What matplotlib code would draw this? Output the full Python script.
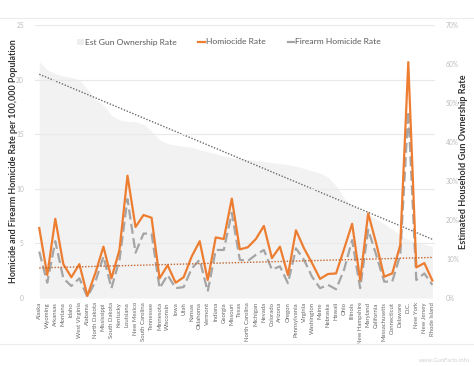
import numpy as np
import matplotlib
matplotlib.use("Agg")
import matplotlib.pyplot as plt
from matplotlib.patches import Patch
from matplotlib.lines import Line2D

plt.rcParams['font.family'] = ['Lato', 'DejaVu Sans']

states = ["Alaska", "Wyoming", "Arkansas", "Montana", "Idaho", "West Virginia", "Alabama",
          "North Dakota", "Mississippi", "South Dakota", "Kentucky", "Louisiana", "New Mexico",
          "South Carolina", "Tennessee", "Minnesota", "Wisconsin", "Iowa", "Utah", "Kansas",
          "Oklahoma", "Vermont", "Indiana", "Georgia", "Missouri", "Texas", "North Carolina",
          "Michigan", "Nevada", "Colorado", "Arizona", "Oregon", "Pennsylvania", "Virginia",
          "Washington", "Maine", "Nebraska", "Hawaii", "Ohio", "Illinois", "New Hampshire",
          "Maryland", "California", "Massachusetts", "Connecticut", "Delaware", "D.C.",
          "New York", "New Jersey", "Rhode Island"]

homicide = [6.4, 2.1, 7.25, 3.1, 1.9, 3.1, 0.2, 2.3, 4.7, 1.8, 4.4, 11.2, 6.5, 7.6, 7.35,
            1.8, 3.0, 1.4, 1.9, 3.8, 5.2, 1.65, 5.55, 5.4, 9.1, 4.45, 4.65, 5.4, 6.6, 3.65,
            4.7, 2.1, 6.2, 4.55, 3.2, 1.75, 2.2, 2.25, 4.5, 6.8, 1.65, 7.75, 5.0, 1.95, 2.25,
            4.85, 21.6, 2.8, 3.2, 1.6]

firearm = [4.25, 1.4, 5.2, 1.8, 1.1, 1.8, 0.1, 1.5, 3.8, 0.9, 3.5, 9.05, 4.15, 5.9, 5.9,
           0.9, 2.1, 0.9, 1.0, 2.7, 3.5, 0.6, 4.4, 4.4, 7.8, 3.5, 3.4, 3.95, 4.4, 2.6,
           2.9, 1.35, 4.55, 3.5, 1.95, 0.9, 1.2, 0.8, 2.6, 5.3, 0.9, 6.25, 3.95, 1.5, 1.5,
           3.95, 17.1, 1.65, 2.25, 1.2]

ownership = [60.6, 58.5, 57.5, 56.9, 56.6, 55.9, 53.5, 51.0, 49.5, 46.8, 45.7, 45.3, 45.2,
             44.5, 42.8, 40.5, 39.6, 39.2, 38.9, 38.7, 38.0, 37.5, 37.0, 36.4, 36.0, 35.8,
             35.5, 35.2, 35.0, 34.7, 34.5, 34.2, 33.8, 33.2, 32.6, 32.0, 31.0, 28.7, 25.5,
             23.8, 22.6, 21.5, 20.3, 19.0, 17.6, 16.0, 15.0, 14.2, 13.8, 13.2]

left_ticks = [0, 5, 10, 15, 20, 25]
right_ticks = [0, 10, 20, 30, 40, 50, 60, 70]

W, H = 474, 366
fig = plt.figure(figsize=(W / 100, H / 100), dpi=100)

x0, x1 = 35, 435
rect = [x0 / W, 1 - 298 / H, (x1 - x0) / W, (298 - 25) / H]
ax_own = fig.add_axes(rect)
ax_hom = ax_own.twinx()

x = np.arange(len(states))

# ownership area (right axis)
ax_own.fill_between(x, ownership, 0, color='#f2f2f2', lw=0, zorder=1)
c1 = np.polyfit(x, ownership, 1)
ax_own.plot(x, np.polyval(c1, x), color='#6b6b6b', lw=1.0, ls=(0, (1, 1.2)), zorder=2)
ax_own.set_ylim(0, 70)
ax_own.set_yticks(right_ticks)
ax_own.set_yticklabels([f"{t}%" for t in right_ticks])
ax_own.yaxis.tick_right()
ax_own.yaxis.set_label_position('right')
ax_own.tick_params(axis='y', length=0, labelsize=4.8, labelcolor='#bdbdbd', pad=8)
ax_own.set_ylabel("Estimated Household Gun Ownership Rate", fontsize=6.6,
                  fontweight='bold', color='#333333', rotation=90, va='center', ha='center')
ax_own.yaxis.set_label_coords((463 - x0) / (x1 - x0), 0.5)
ax_own.set_facecolor('white')

# homicide lines (left axis)
ax_hom.yaxis.tick_left()
ax_hom.yaxis.set_label_position('left')
ax_hom.set_ylim(0, 25)
ax_hom.set_yticks(left_ticks)
ax_hom.set_yticklabels([str(t) for t in left_ticks])
ax_hom.tick_params(axis='y', length=0, labelsize=4.8, labelcolor='#bdbdbd', pad=8)
ax_hom.set_ylabel("Homicide and Firearm Homicide Rate per 100,000 Population", fontsize=6.4,
                  fontweight='bold', color='#333333', va='center', ha='center')
ax_hom.yaxis.set_label_coords((13 - x0) / (x1 - x0), 0.5)
for t in left_ticks[1:]:
    ax_hom.axhline(t, color='#e9e9e9', lw=0.8, zorder=1)

ax_hom.plot(x, firearm, color='#a5a5a5', lw=1.6, dashes=(4.5, 2.0), zorder=3,
            solid_joinstyle='miter')
ax_hom.plot(x, homicide, color='#ed7d31', lw=1.6, zorder=4)
c2 = np.polyfit(x, firearm, 1)
ax_hom.plot(x, np.polyval(c2, x), color='#c5672e', lw=1.0, ls=(0, (1, 1.2)), zorder=5)

for a in (ax_own, ax_hom):
    for s in a.spines.values():
        s.set_visible(False)

ax_own.set_xlim(-0.53, 49.33)
ax_own.set_xticks(x)
ax_own.set_xticklabels(states, rotation=90, fontsize=4.3, color='#666666')
ax_own.tick_params(axis='x', length=0, pad=3)

handles = [Patch(facecolor='#eeeeee', edgecolor='none'),
           Line2D([], [], color='#ed7d31', lw=1.6),
           Line2D([], [], color='#a5a5a5', lw=1.6)]
fig.legend(handles, ["Est Gun Ownership Rate", "Homiocide Rate", "Firearm Homicide Rate"],
           loc='center', bbox_to_anchor=(229 / W, 1 - 42 / H), ncol=3, frameon=False,
           fontsize=6.1, labelcolor='#595959', handlelength=0.8, handleheight=0.7,
           handletextpad=0.1, columnspacing=2.6)

# frame lines
fig.add_artist(Line2D([0, 1], [1 - 18 / H, 1 - 18 / H], color='#ececec', lw=0.8))
fig.add_artist(Line2D([0, 1], [1 - 344 / H, 1 - 344 / H], color='#ececec', lw=0.8))

fig.text(470 / W, 1 - 360 / H, "www.GunFacts.info", fontsize=4.2, color='#d0d0d0',
         ha='right', va='center')

fig.savefig("out.png", dpi=100, facecolor='white')
